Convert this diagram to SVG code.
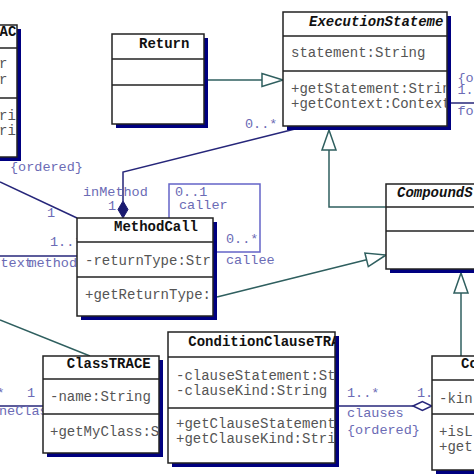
<svg xmlns="http://www.w3.org/2000/svg" width="474" height="474" viewBox="0 0 474 474">
<style>
.bg{fill:#ffffff}
.box{fill:#ffffff;stroke:#222;stroke-width:1.5}
.sep{stroke:#222;stroke-width:1.5}
.sh{fill:#000080}
.hd{font-family:"Liberation Mono",monospace;font-size:14px;font-weight:bold;fill:#111}
.it{font-style:italic}
.mb{font-family:"Liberation Mono",monospace;font-size:14px;fill:#555}
.lb{font-family:"Liberation Mono",monospace;font-size:13.5px;fill:#6b6bb5}
.gen{stroke:#2f5f5f;stroke-width:1.5;fill:none}
.tri{stroke:#2f5f5f;stroke-width:1.5;fill:#ffffff}
.asc{stroke:#26267a;stroke-width:1.5;fill:none}
.loop{stroke:#6464c8;stroke-width:1.5;fill:none}
</style>
<defs>
<clipPath id="cTL"><rect x="-10" y="25" width="27" height="132"/></clipPath>
<clipPath id="cES"><rect x="283" y="12" width="164" height="114"/></clipPath>
<clipPath id="cMC"><rect x="77" y="218" width="136" height="98"/></clipPath>
<clipPath id="cCS"><rect x="386" y="184" width="88" height="85"/></clipPath>
<clipPath id="cCC"><rect x="168" y="332" width="167" height="131"/></clipPath>
<clipPath id="cCT"><rect x="43" y="356" width="116" height="97"/></clipPath>
<clipPath id="cCo"><rect x="432" y="356" width="42" height="114"/></clipPath>
</defs>
<rect class="bg" x="0" y="0" width="474" height="474"/>

<g id="connectors">
  <!-- Return -> ExecutionStatement -->
  <line class="gen" x1="208" y1="80" x2="262" y2="80"/>
  <polygon class="tri" points="283,80 262,73.5 262,86.5"/>
  <!-- CompoundStatement -> ExecutionStatement -->
  <polyline class="gen" points="386,207 329,207 329,150"/>
  <polygon class="tri" points="329,130 322,150 336,150"/>
  <!-- MethodCall -> CompoundStatement -->
  <line class="gen" x1="217" y1="297" x2="366.6" y2="259.8"/>
  <polygon class="tri" points="386,255 368.3,266.6 364.9,253"/>
  <!-- Co -> CompoundStatement -->
  <line class="gen" x1="461" y1="293" x2="461" y2="356"/>
  <polygon class="tri" points="461,273 454,293 468,293"/>
  <!-- into ClassTRACE from left -->
  <line class="gen" x1="0" y1="320" x2="90" y2="356"/>
  <!-- ExecutionStatement -> MethodCall composition -->
  <polyline class="asc" points="303,127 123,172 123,201"/>
  <polygon points="123,201 128,209.5 123,218 118,209.5" fill="#1a1a70" stroke="#1a1a70" stroke-width="1"/>
  <!-- left association to MethodCall -->
  <line class="asc" x1="0" y1="182" x2="77" y2="218"/>
  <line class="asc" x1="0" y1="256" x2="77" y2="256"/>
  <!-- ExecutionStatement right association -->
  <line class="asc" x1="450" y1="103" x2="474" y2="103"/>
  <!-- ClassTRACE left association -->
  <line class="asc" x1="0" y1="406" x2="43" y2="406"/>
  <!-- ConditionClause -> Co aggregation -->
  <line class="asc" x1="339" y1="406" x2="413" y2="406"/>
  <polygon points="413,406 422.4,401.5 431.8,406 422.4,410.5" fill="#ffffff" stroke="#26267a" stroke-width="1.5"/>
  <!-- self loop caller/callee -->
  <polyline class="loop" points="169,218 169,184 260,184 260,252 213,252"/>

  <!-- labels -->
  <text class="lb" x="245" y="128">0..*</text>
  <text class="lb" x="457.5" y="82">{o</text>
  <text class="lb" x="457.5" y="94">1.</text>
  <text class="lb" x="457.5" y="115">fo</text>
  <text class="lb" x="10" y="171">{ordered}</text>
  <text class="lb" x="47" y="217">1</text>
  <text class="lb" x="83" y="196">inMethod</text>
  <text class="lb" x="108" y="210">1</text>
  <text class="lb" x="50" y="246">1..*</text>
  <text class="lb" x="0.5" y="267">text</text>
  <text class="lb" x="28.4" y="267">method</text>
  <text class="lb" x="175" y="196">0..1</text>
  <text class="lb" x="179" y="209">caller</text>
  <text class="lb" x="226" y="243">0..*</text>
  <text class="lb" x="226" y="264">callee</text>
  <text class="lb" x="-3.5" y="397">*</text>
  <text class="lb" x="27" y="397">1</text>
  <text class="lb" x="-1" y="415">neClas</text>
  <text class="lb" x="347" y="397">1..*</text>
  <text class="lb" x="417" y="397">1.</text>
  <text class="lb" x="347" y="417">clauses</text>
  <text class="lb" x="347" y="434">{ordered}</text>
</g>

<g id="node-trace-left">
  <rect class="sh" x="-6" y="29" width="27" height="132"/>
  <rect class="box" x="-10" y="25" width="27" height="132"/>
  <line class="sep" x1="-10" y1="48" x2="17" y2="48"/>
  <line class="sep" x1="-10" y1="98" x2="17" y2="98"/>
  <g clip-path="url(#cTL)">
    <text class="hd" x="-0.5" y="36">AC</text>
    <text class="mb" x="-1" y="68">r</text>
    <text class="mb" x="-1" y="84">r</text>
    <text class="mb" x="-1" y="120">rin</text>
    <text class="mb" x="-1" y="135">rin</text>
  </g>
</g>

<g id="node-return">
  <rect class="sh" x="116" y="38" width="92" height="90"/>
  <rect class="box" x="112" y="34" width="92" height="90"/>
  <line class="sep" x1="112" y1="59" x2="204" y2="59"/>
  <line class="sep" x1="112" y1="85" x2="204" y2="85"/>
  <text class="hd" x="139" y="48">Return</text>
</g>

<g id="node-execution-statement">
  <rect class="sh" x="287" y="16" width="164" height="114"/>
  <rect class="box" x="283" y="12" width="164" height="114"/>
  <line class="sep" x1="283" y1="36" x2="447" y2="36"/>
  <line class="sep" x1="283" y1="71" x2="447" y2="71"/>
  <g clip-path="url(#cES)">
    <text class="hd it" x="309" y="26">ExecutionStateme</text>
    <text class="mb" x="291" y="57">statement:String</text>
    <text class="mb" x="291" y="93">+getStatement:Strin</text>
    <text class="mb" x="291" y="108">+getContext:Context</text>
  </g>
</g>

<g id="node-methodcall">
  <rect class="sh" x="81" y="222" width="136" height="98"/>
  <rect class="box" x="77" y="218" width="136" height="98"/>
  <line class="sep" x1="77" y1="242" x2="213" y2="242"/>
  <line class="sep" x1="77" y1="277" x2="213" y2="277"/>
  <g clip-path="url(#cMC)">
    <text class="hd" x="114" y="231">MethodCall</text>
    <text class="mb" x="85" y="265">-returnType:Str</text>
    <text class="mb" x="85" y="299">+getReturnType:</text>
  </g>
</g>

<g id="node-compound-statement">
  <rect class="sh" x="390" y="188" width="90" height="85"/>
  <rect class="box" x="386" y="184" width="100" height="85"/>
  <line class="sep" x1="386" y1="207" x2="474" y2="207"/>
  <line class="sep" x1="386" y1="231" x2="474" y2="231"/>
  <g clip-path="url(#cCS)">
    <text class="hd it" x="397" y="197">CompoundS</text>
  </g>
</g>

<g id="node-classtrace">
  <rect class="sh" x="47" y="360" width="116" height="97"/>
  <rect class="box" x="43" y="356" width="116" height="97"/>
  <line class="sep" x1="43" y1="379" x2="159" y2="379"/>
  <line class="sep" x1="43" y1="414" x2="159" y2="414"/>
  <g clip-path="url(#cCT)">
    <text class="hd" x="66.7" y="368">ClassTRACE</text>
    <text class="mb" x="50" y="401">-name:String</text>
    <text class="mb" x="50" y="436">+getMyClass:S</text>
  </g>
</g>

<g id="node-conditionclausetrace">
  <rect class="sh" x="172" y="336" width="167" height="131"/>
  <rect class="box" x="168" y="332" width="167" height="131"/>
  <line class="sep" x1="168" y1="357" x2="335" y2="357"/>
  <line class="sep" x1="168" y1="408" x2="335" y2="408"/>
  <g clip-path="url(#cCC)">
    <text class="hd" x="188.3" y="346">ConditionClauseTRA</text>
    <text class="mb" x="176" y="380">-clauseStatement:St</text>
    <text class="mb" x="176" y="395">-clauseKind:String</text>
    <text class="mb" x="176" y="428">+getClauseStatement</text>
    <text class="mb" x="176" y="443">+getClauseKind:Stri</text>
  </g>
</g>

<g id="node-co">
  <rect class="sh" x="436" y="360" width="60" height="114"/>
  <rect class="box" x="432" y="356" width="60" height="114"/>
  <line class="sep" x1="432" y1="380" x2="474" y2="380"/>
  <line class="sep" x1="432" y1="414" x2="474" y2="414"/>
  <g clip-path="url(#cCo)">
    <text class="hd" x="461" y="368">Co</text>
    <text class="mb" x="439" y="403">-kin</text>
    <text class="mb" x="439" y="436">+isL</text>
    <text class="mb" x="439" y="451">+get</text>
  </g>
</g>
</svg>
